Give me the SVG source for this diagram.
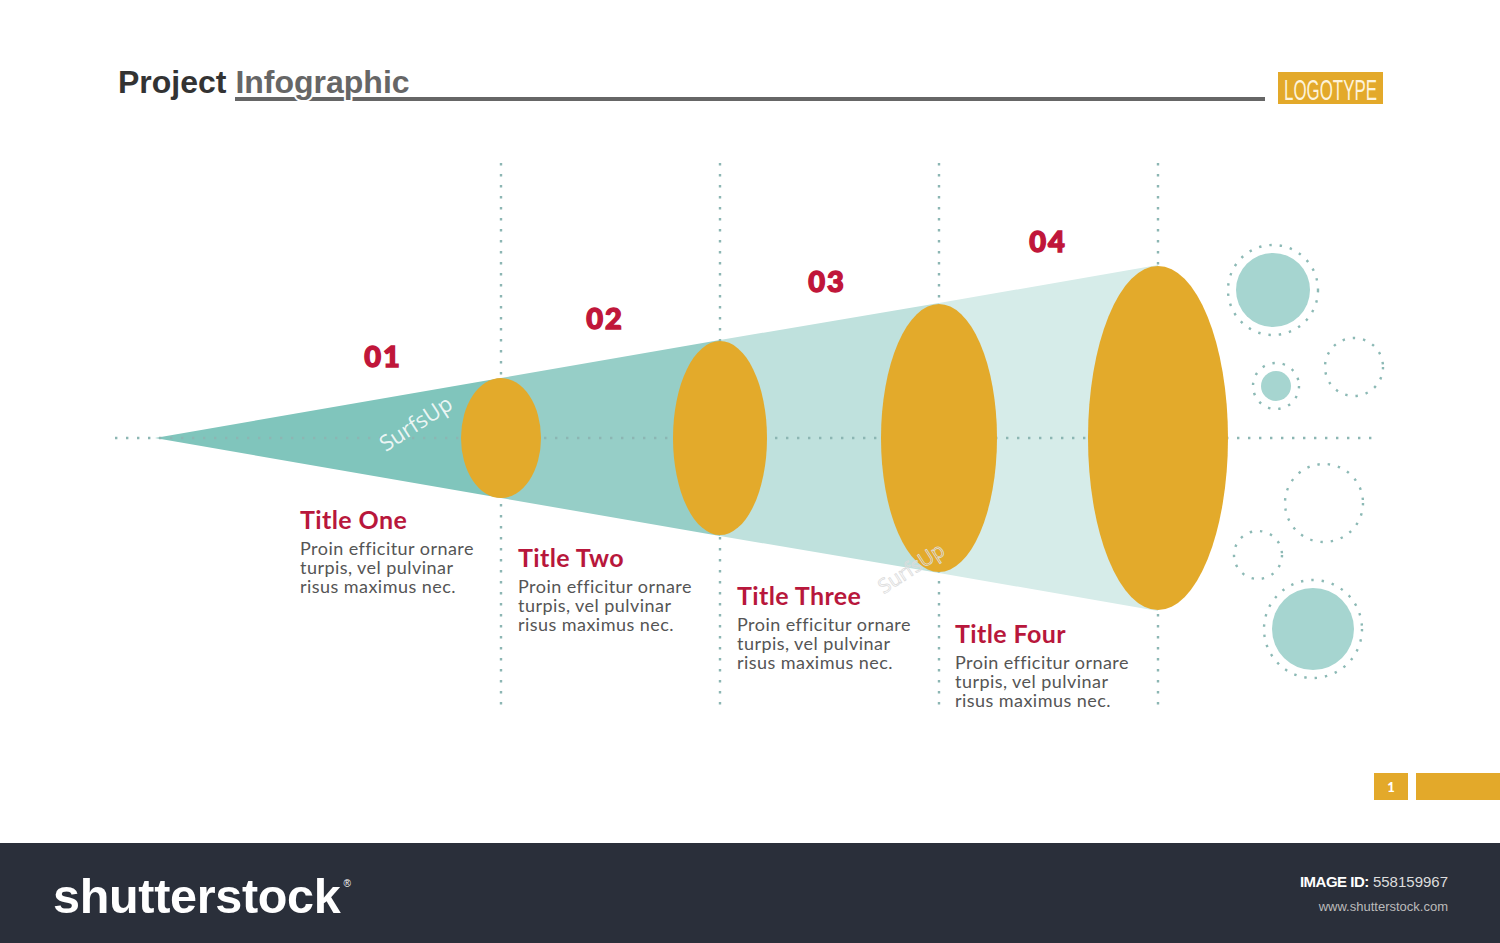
<svg xmlns="http://www.w3.org/2000/svg" width="1500" height="943" viewBox="0 0 1500 943">
<style>
.num{font-family:Lato,"Liberation Sans",sans-serif;font-weight:900;font-size:29px;fill:#c0163a;stroke:#c0163a;stroke-width:1.4;text-anchor:middle;letter-spacing:2px}
.ttl{font-family:Lato,"Liberation Sans",sans-serif;font-weight:700;font-size:25px;fill:#b8173c;letter-spacing:0.4px}
.body{font-family:Lato,"Liberation Sans",sans-serif;font-size:18px;fill:#555;letter-spacing:0.45px}
.dot{fill:none;stroke:#8cb6b3;stroke-width:2.4;stroke-dasharray:2.4 8.6}
.ell{fill:#e3aa2b}
.ring{fill:none;stroke:#8cb9b5;stroke-width:2.4;stroke-dasharray:2.4 8}
.fill{fill:#a6d5d0}
</style>
<rect width="1500" height="943" fill="#ffffff"/>
<g id="header">
<line x1="235" y1="99" x2="1265" y2="99" stroke="#666" stroke-width="4"/>
<text x="118" y="93" font-family="'Liberation Sans',Arial,sans-serif" font-weight="700" font-size="32" stroke="#fff" stroke-width="4" paint-order="stroke" stroke-linejoin="round"><tspan fill="#333">Project</tspan> <tspan fill="#666">Infographic</tspan></text>
</g>
<g id="logotype">
<rect x="1278" y="72" width="105" height="32" fill="#e3a92a"/>
<text x="1284" y="100" font-family="'Liberation Sans',Arial,sans-serif" font-size="30" fill="#fdf3da" textLength="93" lengthAdjust="spacingAndGlyphs">LOGOTYPE</text>
</g>
<g id="cone">
<polygon points="155,438 501,378 501,498" fill="#80c5bc"/>
<polygon points="501,378 720,340 720,536 501,498" fill="#96cec7"/>
<polygon points="720,340 939,303 939,573 720,536" fill="#bfe1dd"/>
<polygon points="939,303 1158,265 1158,611 939,573" fill="#d6ece9"/>
</g>
<g id="connectors">
<line class="dot" x1="115" y1="438" x2="1380" y2="438"/>
<line class="dot" x1="501" y1="163" x2="501" y2="712"/>
<line class="dot" x1="720" y1="163" x2="720" y2="712"/>
<line class="dot" x1="939" y1="163" x2="939" y2="712"/>
<line class="dot" x1="1158" y1="163" x2="1158" y2="712"/>
</g>
<g id="step1">
<ellipse class="ell" cx="501" cy="438" rx="40" ry="60"/>
<text class="num" x="383" y="367">01</text>
<text class="ttl" x="300" y="529">Title One</text>
<text class="body" x="300" y="555">Proin efficitur ornare</text>
<text class="body" x="300" y="574">turpis, vel pulvinar</text>
<text class="body" x="300" y="593">risus maximus nec.</text>
</g>
<g id="step2">
<ellipse class="ell" cx="720" cy="438" rx="47" ry="97"/>
<text class="num" x="605" y="329">02</text>
<text class="ttl" x="518" y="567">Title Two</text>
<text class="body" x="518" y="593">Proin efficitur ornare</text>
<text class="body" x="518" y="612">turpis, vel pulvinar</text>
<text class="body" x="518" y="631">risus maximus nec.</text>
</g>
<g id="step3">
<ellipse class="ell" cx="939" cy="438" rx="58" ry="134"/>
<text class="num" x="827" y="292">03</text>
<text class="ttl" x="737" y="605">Title Three</text>
<text class="body" x="737" y="631">Proin efficitur ornare</text>
<text class="body" x="737" y="650">turpis, vel pulvinar</text>
<text class="body" x="737" y="669">risus maximus nec.</text>
</g>
<g id="step4">
<ellipse class="ell" cx="1158" cy="438" rx="70" ry="172"/>
<text class="num" x="1048" y="252">04</text>
<text class="ttl" x="955" y="643">Title Four</text>
<text class="body" x="955" y="669">Proin efficitur ornare</text>
<text class="body" x="955" y="688">turpis, vel pulvinar</text>
<text class="body" x="955" y="707">risus maximus nec.</text>
</g>
<g id="marks">
<text x="420" y="430" transform="rotate(-33 420 430)" text-anchor="middle" font-family="'Open Sans',sans-serif" font-size="22" fill="#ffffff" fill-opacity="0.85">SurfsUp</text>
<text x="915" y="574" transform="rotate(-33 915 574)" text-anchor="middle" font-family="'Open Sans',sans-serif" font-size="20" fill="none" stroke="#dcdcdc" stroke-width="0.8">SurfsUp</text>
</g>
<g id="circles">
<circle class="fill" cx="1273" cy="290" r="37"/>
<circle class="ring" cx="1273" cy="290" r="45"/>
<circle class="fill" cx="1276" cy="386" r="15"/>
<circle class="ring" cx="1276" cy="386" r="23"/>
<circle class="ring" cx="1354" cy="367" r="29"/>
<circle class="ring" cx="1324" cy="503" r="39"/>
<circle class="ring" cx="1258" cy="555" r="24"/>
<circle class="fill" cx="1313" cy="629" r="41"/>
<circle class="ring" cx="1313" cy="629" r="49"/>
</g>
<g id="page">
<rect x="1374" y="773" width="34" height="27" fill="#e3a92a"/>
<text x="1391" y="792" text-anchor="middle" font-family="Lato,'Liberation Sans',sans-serif" font-weight="900" font-size="13" fill="#fff">1</text>
<rect x="1416" y="773" width="84" height="27" fill="#e3a92a"/>
</g>
<g id="footer">
<rect x="0" y="843" width="1500" height="100" fill="#2a2f3a"/>
<text x="53" y="913" font-family="'Liberation Sans',Arial,sans-serif" font-weight="700" font-size="48.5" fill="#fff" letter-spacing="-0.3">shutterstock<tspan font-size="10" font-weight="400" dx="3" dy="-26">®</tspan></text>
<text x="1448" y="887" text-anchor="end" font-family="'Liberation Sans',Arial,sans-serif" font-size="15" fill="#ddd"><tspan fill="#fff" font-weight="700" letter-spacing="-0.5">IMAGE ID:</tspan> 558159967</text>
<text x="1448" y="911" text-anchor="end" font-family="'Liberation Sans',Arial,sans-serif" font-size="13" fill="#bbb">www.shutterstock.com</text>
</g>
</svg>
